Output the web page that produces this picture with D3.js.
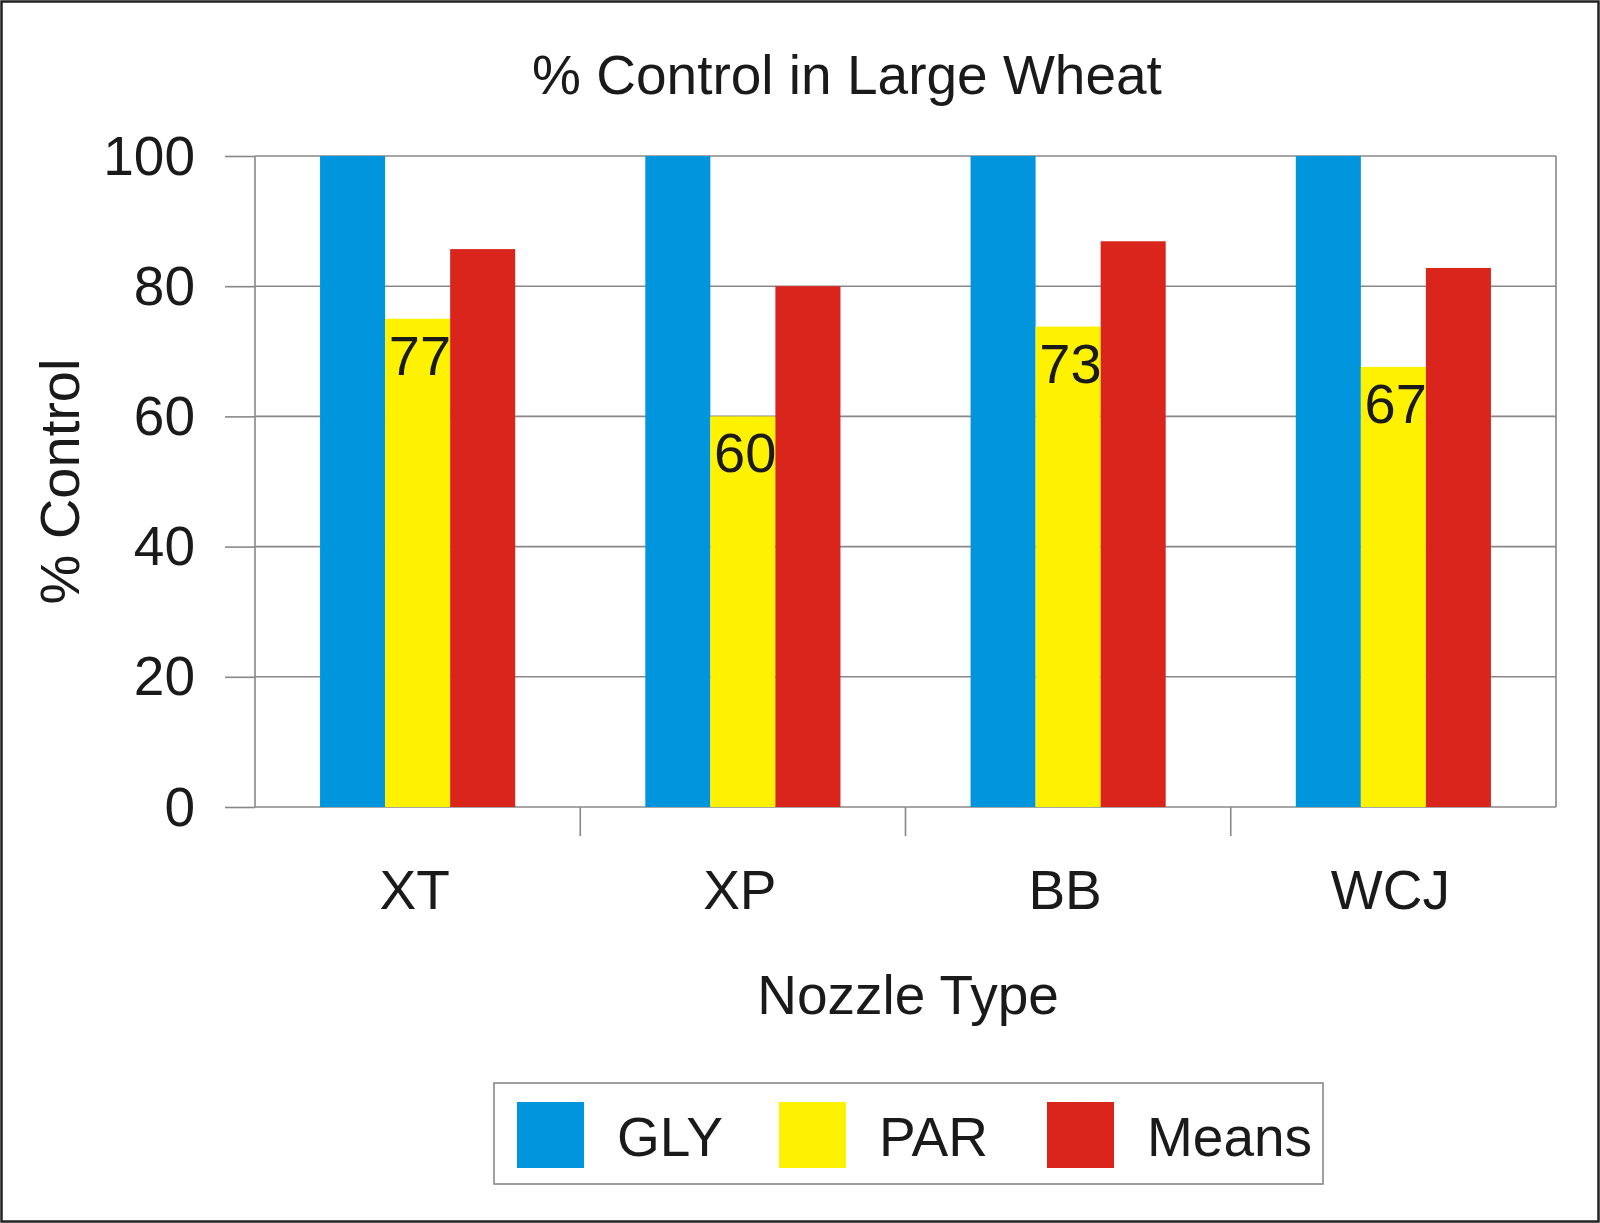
<!DOCTYPE html>
<html>
<head>
<meta charset="utf-8">
<script src="https://cdn.jsdelivr.net/npm/d3@7"></script>
<style>
  body { margin: 0; background: #fff; }
  text { font-family: "Liberation Sans", Arial, sans-serif; fill: #1a1a1a; }
</style>
</head>
<body>
<div id="chart"></div>
<script>
// data
var categories = ["XT", "XP", "BB", "WCJ"];
var seriesNames = ["GLY", "PAR", "Means"];
var glyValues = [100, 100, 100, 100];
var parValues = [75, 60, 73.8, 67.6];
var meanValues = [85.7, 80, 86.9, 82.8];
var parLabels = ["77", "60", "73", "67"];
var yTicks = [0, 20, 40, 60, 80, 100];
var colors = ["#0095dc", "#fff200", "#da251d"];

var width = 1600, height = 1223;
var plotLeft = 255, plotRight = 1556, plotTop = 156, plotBottom = 807;

var svg = d3.select("#chart").append("svg")
    .attr("width", width)
    .attr("height", height);

// outer frame
svg.append("rect")
    .attr("x", 1.5).attr("y", 1.5)
    .attr("width", width - 3).attr("height", height - 3)
    .attr("fill", "none")
    .attr("stroke", "#222")
    .attr("stroke-width", 2.5);

var x0 = d3.scaleBand().domain(categories).range([plotLeft, plotRight]);
var x1 = d3.scaleBand().domain(seriesNames).range([0, x0.bandwidth()]).paddingOuter(1);
var y = d3.scaleLinear().domain([0, 100]).range([plotBottom, plotTop]);

// y axis ticks and labels
var yAxis = d3.axisLeft(y).tickValues(yTicks).tickSize(30).tickPadding(30);
var yG = svg.append("g")
    .attr("transform", "translate(" + plotLeft + ",0)")
    .call(yAxis);
yG.select(".domain").remove();
yG.selectAll("line").attr("stroke", "#888").attr("stroke-width", 1.6);
yG.selectAll("text")
    .style("font-size", "55px")
    .attr("fill", "#1a1a1a")
    .attr("dy", "0.33em");

// gridlines
svg.append("g").selectAll("line")
    .data(yTicks)
    .enter().append("line")
    .attr("x1", plotLeft).attr("x2", plotRight)
    .attr("y1", function(d) { return y(d); })
    .attr("y2", function(d) { return y(d); })
    .attr("stroke", "#888")
    .attr("stroke-width", 1.6);

// plot sides
svg.append("line").attr("x1", plotLeft).attr("x2", plotLeft).attr("y1", plotTop).attr("y2", plotBottom)
    .attr("stroke", "#888").attr("stroke-width", 1.6);
svg.append("line").attr("x1", plotRight).attr("x2", plotRight).attr("y1", plotTop).attr("y2", plotBottom)
    .attr("stroke", "#888").attr("stroke-width", 1.6);

// x ticks between categories
svg.append("g").selectAll("line")
    .data(categories.slice(1))
    .enter().append("line")
    .attr("x1", function(d) { return x0(d); })
    .attr("x2", function(d) { return x0(d); })
    .attr("y1", plotBottom).attr("y2", plotBottom + 29)
    .attr("stroke", "#888").attr("stroke-width", 1.6);

// category labels
svg.append("g").selectAll("text")
    .data(categories)
    .enter().append("text")
    .attr("x", function(d) { return x0(d) + x0.bandwidth() / 2 - 3; })
    .attr("y", 909)
    .attr("text-anchor", "middle")
    .style("font-size", "55px")
    .text(function(d) { return d; });

// bars
var allSeries = [glyValues, parValues, meanValues];
seriesNames.forEach(function(s, si) {
    svg.append("g").selectAll("rect")
        .data(allSeries[si])
        .enter().append("rect")
        .attr("x", function(d, i) { return x0(categories[i]) + x1(s); })
        .attr("y", function(d) { return y(d); })
        .attr("width", x1.bandwidth())
        .attr("height", function(d) { return y(0) - y(d); })
        .attr("fill", colors[si]);
});

// PAR labels
svg.append("g").selectAll("text")
    .data(parLabels)
    .enter().append("text")
    .attr("x", function(d, i) { return x0(categories[i]) + x1("PAR") + x1.bandwidth() + 1; })
    .attr("y", function(d, i) { return y(parValues[i]) + 56; })
    .attr("text-anchor", "end")
    .style("font-size", "56px")
    .text(function(d) { return d; });

// titles
svg.append("text")
    .attr("x", 847).attr("y", 94)
    .attr("text-anchor", "middle")
    .style("font-size", "55px")
    .text("% Control in Large Wheat");

svg.append("text")
    .attr("x", 908).attr("y", 1014)
    .attr("text-anchor", "middle")
    .style("font-size", "55px")
    .text("Nozzle Type");

svg.append("text")
    .attr("transform", "translate(79," + (plotTop + plotBottom) / 2 + ") rotate(-90)")
    .attr("text-anchor", "middle")
    .style("font-size", "56px")
    .text("% Control");

// legend
svg.append("rect")
    .attr("x", 494).attr("y", 1083)
    .attr("width", 829).attr("height", 101)
    .attr("fill", "#fff")
    .attr("stroke", "#888")
    .attr("stroke-width", 1.6);

var legendX = [517, 779, 1047];
seriesNames.forEach(function(s, si) {
    svg.append("rect")
        .attr("x", legendX[si]).attr("y", 1102)
        .attr("width", 67).attr("height", 66)
        .attr("fill", colors[si]);
    svg.append("text")
        .attr("x", legendX[si] + 100).attr("y", 1156)
        .style("font-size", "55px")
        .text(s);
});
</script>
</body>
</html>
